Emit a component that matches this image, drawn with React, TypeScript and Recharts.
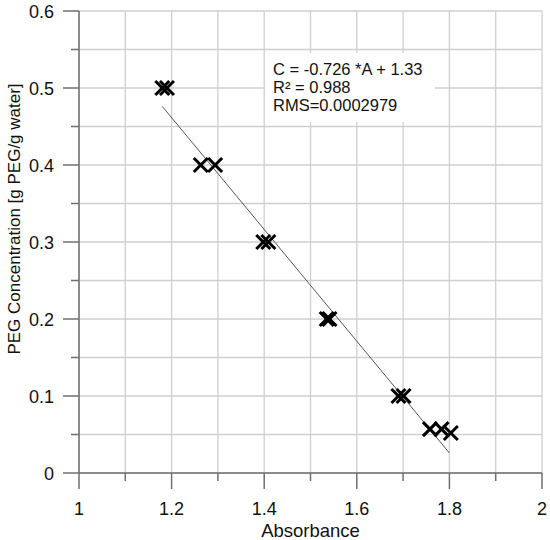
import React from 'react';
import {
  ComposedChart,
  Scatter,
  XAxis,
  YAxis,
  CartesianGrid,
  ReferenceLine,
} from 'recharts';

// ---- data ----
const absorbance = [1.18, 1.19, 1.263, 1.294, 1.398, 1.409, 1.535, 1.541, 1.69, 1.701, 1.758, 1.783, 1.803];
const concentration = [0.5, 0.5, 0.4, 0.4, 0.3, 0.3, 0.2, 0.2, 0.1, 0.1, 0.057, 0.057, 0.052];

const fitX = [1.18, 1.8];
const fitY = [0.476, 0.026];

const xTicks = [1, 1.1, 1.2, 1.3, 1.4, 1.5, 1.6, 1.7, 1.8, 1.9, 2];
const xTickLabels = ['1', '', '1.2', '', '1.4', '', '1.6', '', '1.8', '', '2'];
const yTicks = [0, 0.05, 0.1, 0.15, 0.2, 0.25, 0.3, 0.35, 0.4, 0.45, 0.5, 0.55, 0.6];
const yTickLabels = ['0', '', '0.1', '', '0.2', '', '0.3', '', '0.4', '', '0.5', '', '0.6'];

const fitLines = ['C = -0.726 *A + 1.33', 'R\u00B2 = 0.988', 'RMS=0.0002979'];
const xTitle = 'Absorbance';
const yTitle = 'PEG Concentration [g PEG/g water]';

const points = absorbance.map((a, i) => ({ x: a, y: concentration[i] }));

const FONT = '"Liberation Sans", Arial, Helvetica, sans-serif';
const AXIS = '#6f6f6f';

const labelFor = (ticks: number[], labels: string[], v: number) => {
  const i = ticks.findIndex((t) => Math.abs(t - v) < 1e-6);
  return i >= 0 ? labels[i] : '';
};

const XTick = (props: any) => {
  const { x, y, payload } = props;
  const lab = labelFor(xTicks, xTickLabels, payload.value);
  const len = lab ? 16 : 8;
  return (
    <g>
      <line x1={x} x2={x} y1={y} y2={y + len} stroke={AXIS} strokeWidth={1.5} />
      {lab && (
        <text x={x} y={y + 42} textAnchor="middle" fontSize={18} fill="#111" fontFamily={FONT}>
          {lab}
        </text>
      )}
    </g>
  );
};

const YTick = (props: any) => {
  const { x, y, payload } = props;
  const lab = labelFor(yTicks, yTickLabels, payload.value);
  const len = lab ? 16 : 8;
  return (
    <g>
      <line x1={x - len} x2={x} y1={y} y2={y} stroke={AXIS} strokeWidth={1.5} />
      {lab && (
        <text x={x - 25} y={y + 6.5} textAnchor="end" fontSize={18} fill="#111" fontFamily={FONT}>
          {lab}
        </text>
      )}
    </g>
  );
};

const Cross = (props: any) => {
  const { cx, cy } = props;
  const s = 7;
  return (
    <g stroke="#000" strokeWidth={3} strokeLinecap="butt">
      <line x1={cx - s} y1={cy - s} x2={cx + s} y2={cy + s} />
      <line x1={cx - s} y1={cy + s} x2={cx + s} y2={cy - s} />
    </g>
  );
};

export default function App() {
  return (
    <div style={{ position: 'absolute', left: 0, top: 0, width: 550, height: 540, background: '#fff', fontFamily: FONT }}>
      <ComposedChart width={550} height={540} margin={{ top: 11, right: 8, left: 0, bottom: 0 }}>
        <CartesianGrid stroke="#cfcfcf" strokeWidth={1.3} />
        <XAxis
          type="number"
          dataKey="x"
          domain={[1, 2]}
          ticks={xTicks}
          interval={0}
          height={67}
          tickSize={0}
          tickMargin={0}
          tickLine={false}
          axisLine={{ stroke: AXIS, strokeWidth: 1.5 }}
          tick={<XTick />}
        />
        <YAxis
          type="number"
          dataKey="y"
          domain={[0, 0.6]}
          ticks={yTicks}
          interval={0}
          width={79}
          tickSize={0}
          tickMargin={0}
          tickLine={false}
          axisLine={{ stroke: AXIS, strokeWidth: 1.5 }}
          tick={<YTick />}
        />
        <ReferenceLine
          segment={[
            { x: fitX[0], y: fitY[0] },
            { x: fitX[1], y: fitY[1] },
          ]}
          stroke="#555"
          strokeWidth={1}
          ifOverflow="visible"
        />
        <Scatter data={points} shape={<Cross />} isAnimationActive={false} />
      </ComposedChart>
      <div
        style={{
          position: 'absolute',
          left: 265,
          top: 53,
          width: 162,
          padding: '7px 0 8px 8px',
          background: '#fff',
          fontSize: 16.5,
          lineHeight: '18px',
          color: '#111',
          whiteSpace: 'nowrap',
        }}
      >
        {fitLines.map((l) => (
          <div key={l}>{l}</div>
        ))}
      </div>
      <svg width={550} height={540} style={{ position: 'absolute', left: 0, top: 0, pointerEvents: 'none' }}>
        <text x={310.5} y={537} textAnchor="middle" fontSize={18.5} fill="#111" fontFamily={FONT}>
          {xTitle}
        </text>
        <text
          x={0}
          y={0}
          transform="translate(20,219) rotate(-90)"
          textAnchor="middle"
          fontSize={17}
          fill="#111"
          fontFamily={FONT}
        >
          {yTitle}
        </text>
      </svg>
    </div>
  );
}
